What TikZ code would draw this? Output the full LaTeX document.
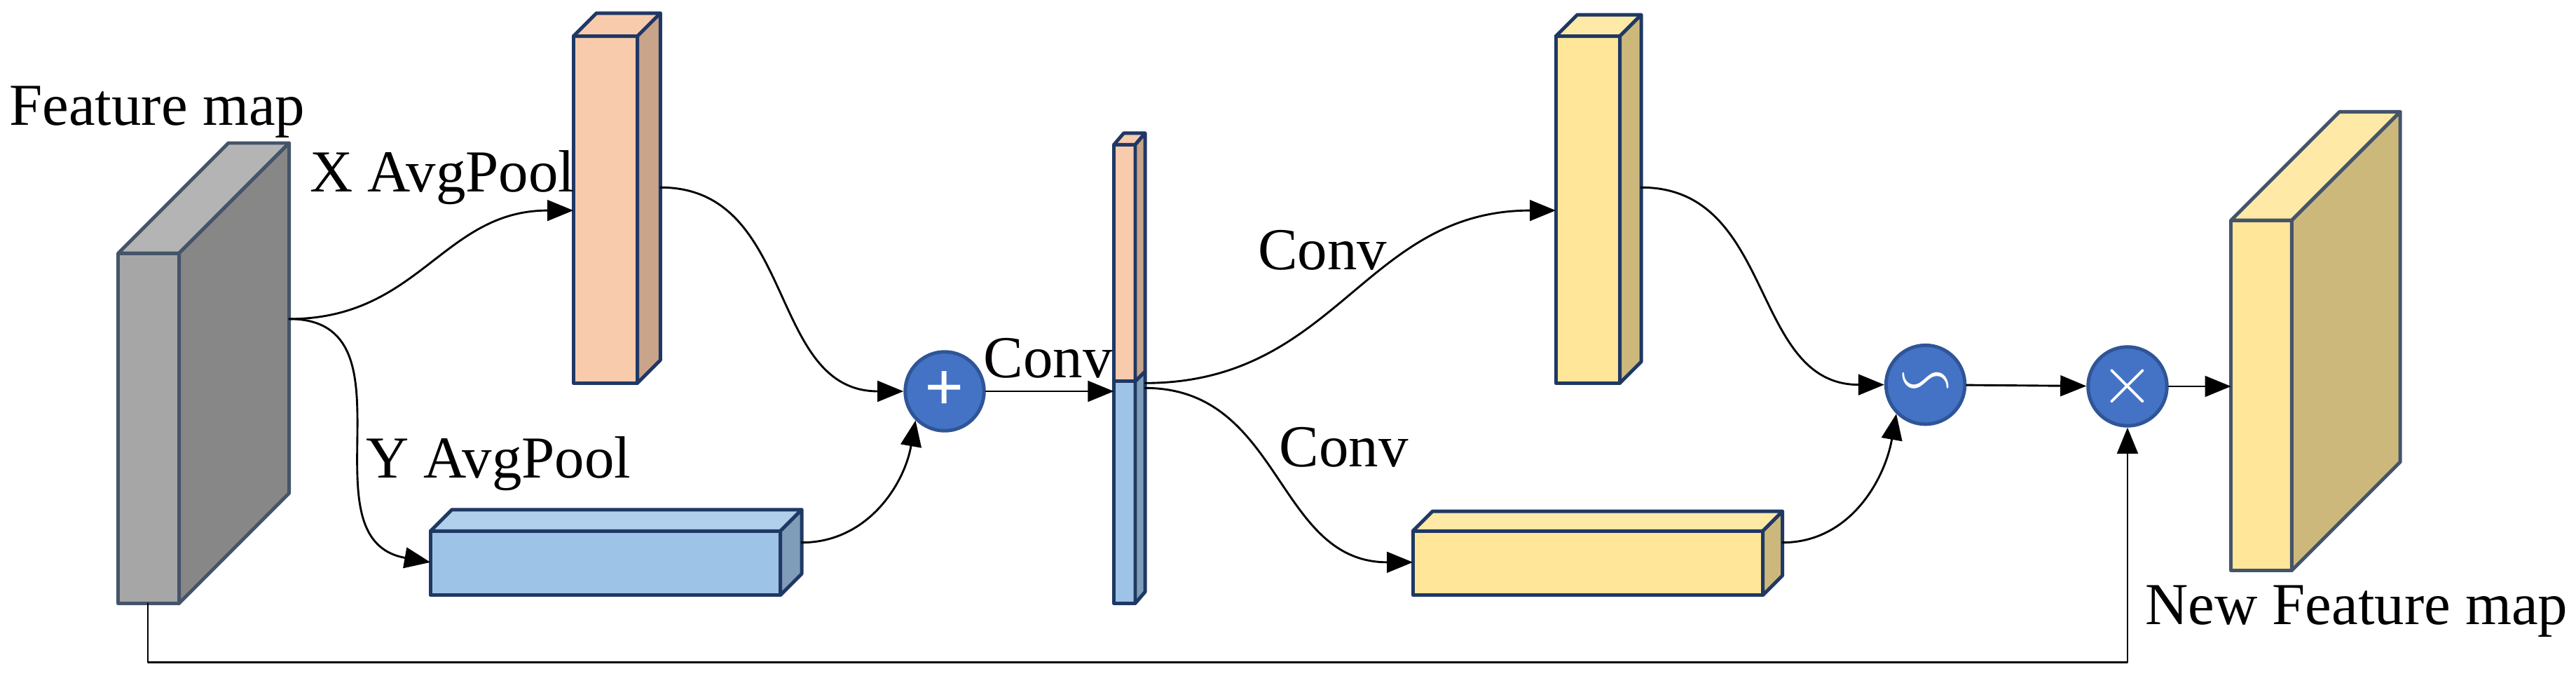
\documentclass[tikz,border=0pt]{standalone}
\usepackage{amsmath, amssymb}
\usepackage{fontspec}
\setmainfont{Liberation Serif}
\usepackage{xcolor}
\usetikzlibrary{arrows.meta}
\definecolor{edge}{HTML}{44546A}
\definecolor{navy}{HTML}{1F3864}
\definecolor{grayF}{HTML}{A6A6A6}
\definecolor{grayS}{HTML}{878787}
\definecolor{grayT}{HTML}{B4B4B4}
\definecolor{orgF}{HTML}{F8CBAD}
\definecolor{orgS}{HTML}{C9A48A}
\definecolor{bluF}{HTML}{9DC3E6}
\definecolor{bluS}{HTML}{7F9DB9}
\definecolor{bluT}{HTML}{B0CFEA}
\definecolor{yelF}{HTML}{FFE699}
\definecolor{yelS}{HTML}{CDB87C}
\definecolor{yelT}{HTML}{FFE9A6}
\definecolor{opF}{HTML}{4472C4}
\definecolor{opE}{HTML}{2F5597}
\tikzstyle{arrow} = [line width=0.35pt,-{Triangle[length=4.5pt,width=3.6pt]}]
\tikzstyle{op} = [circle,fill=opF,draw=opE,line width=0.6pt,minimum size=4.8mm,inner sep=0pt,text=white,font=\large\bfseries]
\tikzstyle{lbl} = [font=\fontsize{10.3}{12}\selectfont,inner sep=0pt]
% #1 border, #2 x, #3 y, #4 w, #5 h, #6 depth, #7 front, #8 side, #9 top
\newcommand{\cuboid}[9]{%
  \draw[draw=#1,fill=#7,line width=0.6pt] (#2,#3) rectangle ++(#4,#5);
  \draw[draw=#1,fill=#9,line width=0.6pt] (#2,#3) -- ++(#6,-#6) -- ++(#4,0) -- ++(-#6,#6) -- cycle;
  \draw[draw=#1,fill=#8,line width=0.6pt] (#2,#3) ++(#4,0) -- ++(#6,-#6) -- ++(0,#5) -- ++(-#6,#6) -- cycle;}

\begin{document}
\begin{tikzpicture}[x=0.1mm,y=-0.1mm,line cap=round,line join=round]
                \useasboundingbox (0,0) rectangle (1568,411);
                % blocks
                \cuboid{edge}{72}{154}{37}{213}{67}{grayF}{grayS}{grayT}
                \cuboid{navy}{349}{22}{39}{211}{14}{orgF}{orgS}{orgF}
                \cuboid{navy}{262}{323}{213}{39}{13}{bluF}{bluS}{bluT}
                \cuboid{navy}{947}{22}{39}{211}{13}{yelF}{yelS}{yelT}
                \cuboid{navy}{860}{323}{213}{39}{12}{yelF}{yelS}{yelT}
                \cuboid{edge}{1358}{134}{37}{213}{66}{yelF}{yelS}{yelT}
                % concatenated bar
                \draw[draw=navy,fill=orgF,line width=0.6pt] (678,88) rectangle (691,232);
                \draw[draw=navy,fill=bluF,line width=0.6pt] (678,232) rectangle (691,367);
                \draw[draw=navy,fill=orgF,line width=0.6pt] (678,88) -- (684,81) -- (697,81) -- (691,88) -- cycle;
                \draw[draw=navy,fill=orgS,line width=0.6pt] (691,88) -- (697,81) -- (697,226) -- (691,232) -- cycle;
                \draw[draw=navy,fill=bluS,line width=0.6pt] (691,232) -- (697,226) -- (697,360) -- (691,367) -- cycle;
                % anchors
                \coordinate (gout) at (176,194);
                \coordinate (gbot) at (90,367);
                \coordinate (xin) at (349,128);
                \coordinate (xout) at (402,114);
                \coordinate (yin) at (262,342);
                \coordinate (yout) at (488,330);
                \coordinate (cin) at (678,238);
                \coordinate (cout) at (697,233);
                \coordinate (cout2) at (697,236);
                \coordinate (uin) at (947,128);
                \coordinate (uout) at (999,114);
                \coordinate (lin) at (860,342);
                \coordinate (lout) at (1085,330);
                \coordinate (nin) at (1358,235);
                \coordinate (corner) at (90,403);
                % operators
                \node[op] (plus) at (575,238) {+};
                \node[op] (sig) at (1172,234) {$\backsim$};
                \node[op] (mul) at (1295,235) {$\times$};
                % connectors
                \draw[arrow] (gout) to[out=0,in=180,looseness=1.1] (xin);
                \draw[arrow] (gout) to[out=0,in=170,looseness=1.2] (yin);
                \draw[arrow] (xout) to[out=0,in=180,looseness=1.1] (plus.west);
                \draw[arrow] (yout) to[out=0,in=-100,looseness=1] (plus.south west);
                \draw[arrow] (plus) -- (cin);
                \draw[arrow] (cout) to[out=0,in=180,looseness=1.1] (uin);
                \draw[arrow] (cout2) to[out=0,in=180,looseness=1.1] (lin);
                \draw[arrow] (uout) to[out=0,in=180,looseness=1.1] (sig.west);
                \draw[arrow] (lout) to[out=0,in=-100,looseness=1] (sig.south west);
                \draw[arrow] (sig) -- (mul);
                \draw[arrow] (mul) -- (nin);
                \draw[arrow] (gbot) -- (corner) -| (mul.south);
                % labels
                \node[lbl,anchor=west] (tfm) at (5,68) {Feature map};
                \node[lbl,anchor=west] (tx) at (188,108) {X AvgPool};
                \node[lbl,anchor=west] (ty) at (222,282) {Y AvgPool};
                \node[lbl,anchor=west] (tc1) at (598,218) {Conv};
                \node[lbl,anchor=west] (tc2) at (765,152) {Conv};
                \node[lbl,anchor=west] (tc3) at (778,272) {Conv};
                \node[lbl,anchor=west] (tnf) at (1305,372) {New Feature map};
\end{tikzpicture}
\end{document}
